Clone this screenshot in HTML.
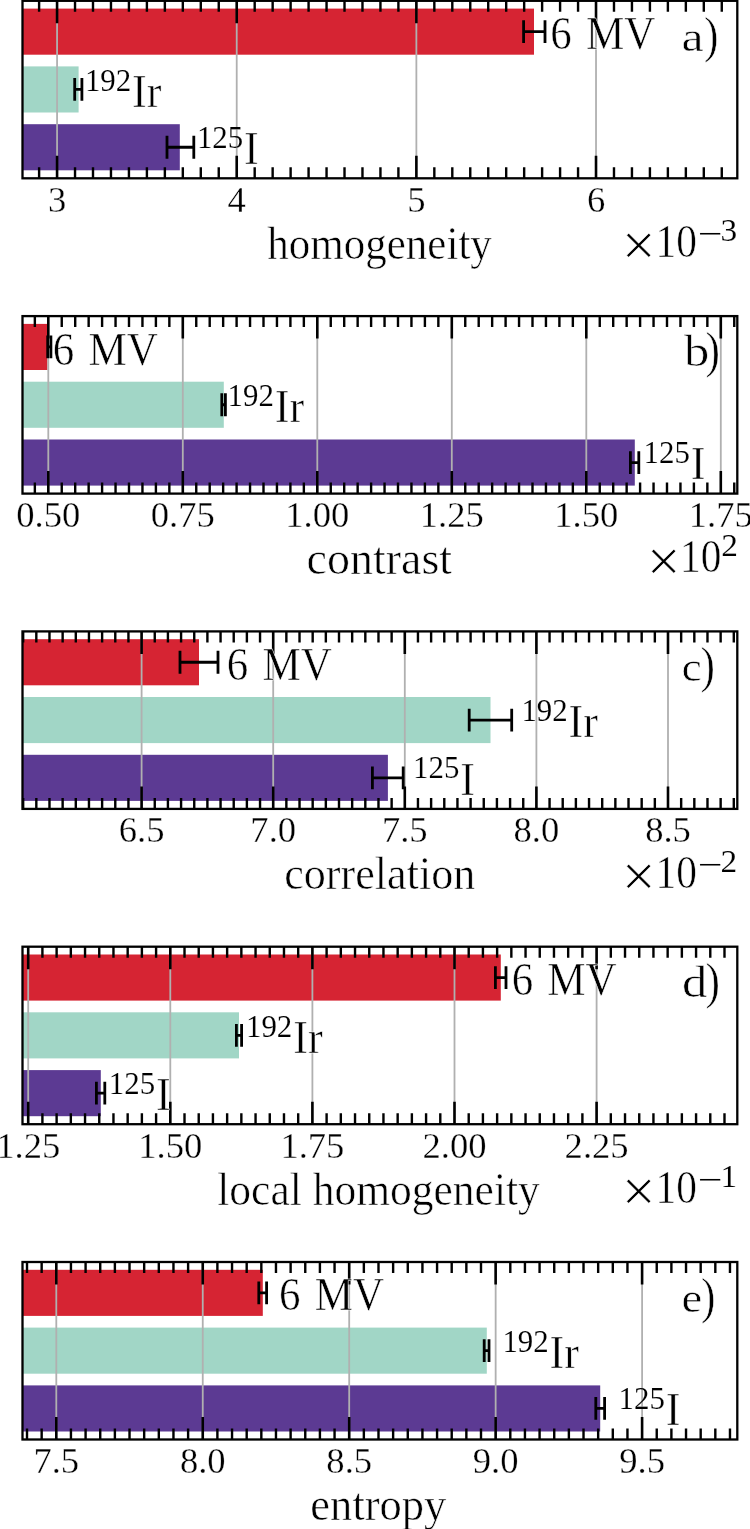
<!DOCTYPE html>
<html><head><meta charset="utf-8"><title>GLCM texture features</title>
<style>html,body{margin:0;padding:0;background:#fff}svg{display:block}text{font-family:"Liberation Serif", serif;fill:#000;stroke:#fff;stroke-width:0.55}text.s{stroke-width:0.12}text.t{stroke-width:0.3}</style></head><body>
<svg width="750" height="1529" viewBox="0 0 750 1529">
<rect width="750" height="1529" fill="#fff"/>
<g>
<rect x="22.5" y="8.6" width="511.5" height="46.1" fill="#d62433"/>
<rect x="22.5" y="66.4" width="56.1" height="46.1" fill="#a1d6c6"/>
<rect x="22.5" y="124.2" width="157.3" height="46.1" fill="#5c3a93"/>
<path d="M57.07 0.8V178.3M236.72 0.8V178.3M416.37 0.8V178.3M596.02 0.8V178.3" stroke="#b0b0b0" stroke-width="1.8" fill="none"/>
<path d="M39.11 0.8v11M39.11 178.3v-11M75.03 0.8v11M75.03 178.3v-11M93 0.8v11M93 178.3v-11M110.97 0.8v11M110.97 178.3v-11M128.93 0.8v11M128.93 178.3v-11M146.9 0.8v11M146.9 178.3v-11M164.86 0.8v11M164.86 178.3v-11M182.82 0.8v11M182.82 178.3v-11M200.79 0.8v11M200.79 178.3v-11M218.75 0.8v11M218.75 178.3v-11M254.69 0.8v11M254.69 178.3v-11M272.65 0.8v11M272.65 178.3v-11M290.62 0.8v11M290.62 178.3v-11M308.58 0.8v11M308.58 178.3v-11M326.55 0.8v11M326.55 178.3v-11M344.51 0.8v11M344.51 178.3v-11M362.47 0.8v11M362.47 178.3v-11M380.44 0.8v11M380.44 178.3v-11M398.4 0.8v11M398.4 178.3v-11M434.33 0.8v11M434.33 178.3v-11M452.3 0.8v11M452.3 178.3v-11M470.26 0.8v11M470.26 178.3v-11M488.23 0.8v11M488.23 178.3v-11M506.19 0.8v11M506.19 178.3v-11M524.16 0.8v11M524.16 178.3v-11M542.12 0.8v11M542.12 178.3v-11M560.09 0.8v11M560.09 178.3v-11M578.06 0.8v11M578.06 178.3v-11M613.99 0.8v11M613.99 178.3v-11M631.95 0.8v11M631.95 178.3v-11M649.92 0.8v11M649.92 178.3v-11M667.88 0.8v11M667.88 178.3v-11M685.85 0.8v11M685.85 178.3v-11M703.81 0.8v11M703.81 178.3v-11M721.78 0.8v11M721.78 178.3v-11" stroke="#000" stroke-width="2.4" fill="none"/>
<path d="M57.07 0.8v22.5M57.07 178.3v-22.5M236.72 0.8v22.5M236.72 178.3v-22.5M416.37 0.8v22.5M416.37 178.3v-22.5M596.02 0.8v22.5M596.02 178.3v-22.5" stroke="#000" stroke-width="2.6" fill="none"/>
<path d="M523.6 31.65H545M523.6 20.25V43.05M545 20.25V43.05M74.7 89.45H81.9M74.7 78.05V100.85M81.9 78.05V100.85M167 147.25H193.8M167 135.85V158.65M193.8 135.85V158.65" stroke="#000" stroke-width="2.8" fill="none"/>
<rect x="22.5" y="0.8" width="714.8" height="177.5" fill="none" stroke="#000" stroke-width="2.3"/>
<g transform="translate(550.3 49.2) scale(0.93 1)"><text font-size="46.3"><tspan word-spacing="3.6">6 MV</tspan></text></g>
<g transform="translate(84.9 90.6) scale(0.98 1)"><text font-size="31.5" class="s">192</text></g>
<g transform="translate(132.1 106.8) scale(0.953 1)"><text font-size="46.3">Ir</text></g>
<g transform="translate(196.9 147.8) scale(0.98 1)"><text font-size="31.5" class="s">125</text></g>
<g transform="translate(244.1 164) scale(0.953 1)"><text font-size="46.3">I</text></g>
<g transform="translate(681.5 50.8) scale(1.2 1)"><text font-size="41.5">a</text></g>
<g transform="translate(703.9 51.8) scale(0.85 1)"><text font-size="51">)</text></g>
<g transform="translate(57.07 211.6) scale(1.0 1)"><text font-size="36.6" text-anchor="middle" class="t">3</text></g>
<g transform="translate(236.72 211.6) scale(1.0 1)"><text font-size="36.6" text-anchor="middle" class="t">4</text></g>
<g transform="translate(416.37 211.6) scale(1.0 1)"><text font-size="36.6" text-anchor="middle" class="t">5</text></g>
<g transform="translate(596.02 211.6) scale(1.0 1)"><text font-size="36.6" text-anchor="middle" class="t">6</text></g>
<g transform="translate(379.5 258.6) scale(0.93 1)"><text font-size="46.3" text-anchor="middle">homogeneity</text></g>
<g transform="translate(621.8 265.4) scale(1.0 1)"><text font-size="60">×</text></g>
<g transform="translate(655.5 257.1) scale(0.893 1)"><text font-size="46.3">10</text></g>
<g transform="translate(697.9 244.1) scale(1.39 1)"><text font-size="31.5" class="s">−</text></g>
<g transform="translate(720.4 241.1) scale(1.06 1)"><text font-size="31.5" class="s">3</text></g>
</g>
<g>
<rect x="22.5" y="323.9" width="24.9" height="46.1" fill="#d62433"/>
<rect x="22.5" y="381.7" width="201.3" height="46.1" fill="#a1d6c6"/>
<rect x="22.5" y="439.5" width="612.3" height="46.1" fill="#5c3a93"/>
<path d="M48.3 316.1V493.6M182.8 316.1V493.6M317.3 316.1V493.6M451.8 316.1V493.6M586.3 316.1V493.6M720.8 316.1V493.6" stroke="#b0b0b0" stroke-width="1.8" fill="none"/>
<path d="M34.85 316.1v11M34.85 493.6v-11M61.75 316.1v11M61.75 493.6v-11M75.2 316.1v11M75.2 493.6v-11M88.65 316.1v11M88.65 493.6v-11M102.1 316.1v11M102.1 493.6v-11M115.55 316.1v11M115.55 493.6v-11M129 316.1v11M129 493.6v-11M142.45 316.1v11M142.45 493.6v-11M155.9 316.1v11M155.9 493.6v-11M169.35 316.1v11M169.35 493.6v-11M196.25 316.1v11M196.25 493.6v-11M209.7 316.1v11M209.7 493.6v-11M223.15 316.1v11M223.15 493.6v-11M236.6 316.1v11M236.6 493.6v-11M250.05 316.1v11M250.05 493.6v-11M263.5 316.1v11M263.5 493.6v-11M276.95 316.1v11M276.95 493.6v-11M290.4 316.1v11M290.4 493.6v-11M303.85 316.1v11M303.85 493.6v-11M330.75 316.1v11M330.75 493.6v-11M344.2 316.1v11M344.2 493.6v-11M357.65 316.1v11M357.65 493.6v-11M371.1 316.1v11M371.1 493.6v-11M384.55 316.1v11M384.55 493.6v-11M398 316.1v11M398 493.6v-11M411.45 316.1v11M411.45 493.6v-11M424.9 316.1v11M424.9 493.6v-11M438.35 316.1v11M438.35 493.6v-11M465.25 316.1v11M465.25 493.6v-11M478.7 316.1v11M478.7 493.6v-11M492.15 316.1v11M492.15 493.6v-11M505.6 316.1v11M505.6 493.6v-11M519.05 316.1v11M519.05 493.6v-11M532.5 316.1v11M532.5 493.6v-11M545.95 316.1v11M545.95 493.6v-11M559.4 316.1v11M559.4 493.6v-11M572.85 316.1v11M572.85 493.6v-11M599.75 316.1v11M599.75 493.6v-11M613.2 316.1v11M613.2 493.6v-11M626.65 316.1v11M626.65 493.6v-11M640.1 316.1v11M640.1 493.6v-11M653.55 316.1v11M653.55 493.6v-11M667 316.1v11M667 493.6v-11M680.45 316.1v11M680.45 493.6v-11M693.9 316.1v11M693.9 493.6v-11M707.35 316.1v11M707.35 493.6v-11M734.25 316.1v11M734.25 493.6v-11" stroke="#000" stroke-width="2.4" fill="none"/>
<path d="M48.3 316.1v22.5M48.3 493.6v-22.5M182.8 316.1v22.5M182.8 493.6v-22.5M317.3 316.1v22.5M317.3 493.6v-22.5M451.8 316.1v22.5M451.8 493.6v-22.5M586.3 316.1v22.5M586.3 493.6v-22.5M720.8 316.1v22.5M720.8 493.6v-22.5" stroke="#000" stroke-width="2.6" fill="none"/>
<path d="M47.7 346.95H50.9M47.7 335.55V358.35M50.9 335.55V358.35M221.8 404.75H225.4M221.8 393.35V416.15M225.4 393.35V416.15M630.4 462.55H638.8M630.4 451.15V473.95M638.8 451.15V473.95" stroke="#000" stroke-width="2.8" fill="none"/>
<rect x="22.5" y="316.1" width="714.8" height="177.5" fill="none" stroke="#000" stroke-width="2.3"/>
<g transform="translate(52.8 364.5) scale(0.93 1)"><text font-size="46.3"><tspan word-spacing="3.6">6 MV</tspan></text></g>
<g transform="translate(227.6 405.9) scale(0.98 1)"><text font-size="31.5" class="s">192</text></g>
<g transform="translate(274.8 422.1) scale(0.953 1)"><text font-size="46.3">Ir</text></g>
<g transform="translate(643.6 463.1) scale(0.98 1)"><text font-size="31.5" class="s">125</text></g>
<g transform="translate(690.8 479.3) scale(0.953 1)"><text font-size="46.3">I</text></g>
<g transform="translate(684 366.1) scale(1.168 1)"><text font-size="43.4">b</text></g>
<g transform="translate(705.4 367.1) scale(0.85 1)"><text font-size="51">)</text></g>
<g transform="translate(48.3 526.9) scale(1.0 1)"><text font-size="36.6" text-anchor="middle" class="t">0.50</text></g>
<g transform="translate(182.8 526.9) scale(1.0 1)"><text font-size="36.6" text-anchor="middle" class="t">0.75</text></g>
<g transform="translate(317.3 526.9) scale(1.0 1)"><text font-size="36.6" text-anchor="middle" class="t">1.00</text></g>
<g transform="translate(451.8 526.9) scale(1.0 1)"><text font-size="36.6" text-anchor="middle" class="t">1.25</text></g>
<g transform="translate(586.3 526.9) scale(1.0 1)"><text font-size="36.6" text-anchor="middle" class="t">1.50</text></g>
<g transform="translate(720.8 526.9) scale(1.0 1)"><text font-size="36.6" text-anchor="middle" class="t">1.75</text></g>
<g transform="translate(379.35 573.9) scale(0.993 1)"><text font-size="46.3" text-anchor="middle">contrast</text></g>
<g transform="translate(646.8 580.7) scale(1.0 1)"><text font-size="60">×</text></g>
<g transform="translate(680.1 572.4) scale(0.893 1)"><text font-size="46.3">10</text></g>
<g transform="translate(721.2 556.4) scale(1.06 1)"><text font-size="31.5" class="s">2</text></g>
</g>
<g>
<rect x="22.5" y="639.2" width="176.5" height="46.1" fill="#d62433"/>
<rect x="22.5" y="697" width="468" height="46.1" fill="#a1d6c6"/>
<rect x="22.5" y="754.8" width="365.4" height="46.1" fill="#5c3a93"/>
<path d="M141.6 631.4V808.9M273.2 631.4V808.9M404.8 631.4V808.9M536.4 631.4V808.9M668 631.4V808.9" stroke="#b0b0b0" stroke-width="1.8" fill="none"/>
<path d="M23.16 631.4v11M23.16 808.9v-11M36.32 631.4v11M36.32 808.9v-11M49.48 631.4v11M49.48 808.9v-11M62.64 631.4v11M62.64 808.9v-11M75.8 631.4v11M75.8 808.9v-11M88.96 631.4v11M88.96 808.9v-11M102.12 631.4v11M102.12 808.9v-11M115.28 631.4v11M115.28 808.9v-11M128.44 631.4v11M128.44 808.9v-11M154.76 631.4v11M154.76 808.9v-11M167.92 631.4v11M167.92 808.9v-11M181.08 631.4v11M181.08 808.9v-11M194.24 631.4v11M194.24 808.9v-11M207.4 631.4v11M207.4 808.9v-11M220.56 631.4v11M220.56 808.9v-11M233.72 631.4v11M233.72 808.9v-11M246.88 631.4v11M246.88 808.9v-11M260.04 631.4v11M260.04 808.9v-11M286.36 631.4v11M286.36 808.9v-11M299.52 631.4v11M299.52 808.9v-11M312.68 631.4v11M312.68 808.9v-11M325.84 631.4v11M325.84 808.9v-11M339 631.4v11M339 808.9v-11M352.16 631.4v11M352.16 808.9v-11M365.32 631.4v11M365.32 808.9v-11M378.48 631.4v11M378.48 808.9v-11M391.64 631.4v11M391.64 808.9v-11M417.96 631.4v11M417.96 808.9v-11M431.12 631.4v11M431.12 808.9v-11M444.28 631.4v11M444.28 808.9v-11M457.44 631.4v11M457.44 808.9v-11M470.6 631.4v11M470.6 808.9v-11M483.76 631.4v11M483.76 808.9v-11M496.92 631.4v11M496.92 808.9v-11M510.08 631.4v11M510.08 808.9v-11M523.24 631.4v11M523.24 808.9v-11M549.56 631.4v11M549.56 808.9v-11M562.72 631.4v11M562.72 808.9v-11M575.88 631.4v11M575.88 808.9v-11M589.04 631.4v11M589.04 808.9v-11M602.2 631.4v11M602.2 808.9v-11M615.36 631.4v11M615.36 808.9v-11M628.52 631.4v11M628.52 808.9v-11M641.68 631.4v11M641.68 808.9v-11M654.84 631.4v11M654.84 808.9v-11M681.16 631.4v11M681.16 808.9v-11M694.32 631.4v11M694.32 808.9v-11M707.48 631.4v11M707.48 808.9v-11M720.64 631.4v11M720.64 808.9v-11M733.8 631.4v11M733.8 808.9v-11" stroke="#000" stroke-width="2.4" fill="none"/>
<path d="M141.6 631.4v22.5M141.6 808.9v-22.5M273.2 631.4v22.5M273.2 808.9v-22.5M404.8 631.4v22.5M404.8 808.9v-22.5M536.4 631.4v22.5M536.4 808.9v-22.5M668 631.4v22.5M668 808.9v-22.5" stroke="#000" stroke-width="2.6" fill="none"/>
<path d="M180 662.25H218M180 650.85V673.65M218 650.85V673.65M469.2 720.05H511.7M469.2 708.65V731.45M511.7 708.65V731.45M372.4 777.85H403.2M372.4 766.45V789.25M403.2 766.45V789.25" stroke="#000" stroke-width="2.8" fill="none"/>
<rect x="22.5" y="631.4" width="714.8" height="177.5" fill="none" stroke="#000" stroke-width="2.3"/>
<g transform="translate(226.8 679.8) scale(0.93 1)"><text font-size="46.3"><tspan word-spacing="3.6">6 MV</tspan></text></g>
<g transform="translate(521.4 721.2) scale(0.98 1)"><text font-size="31.5" class="s">192</text></g>
<g transform="translate(568.6 737.4) scale(0.953 1)"><text font-size="46.3">Ir</text></g>
<g transform="translate(413.1 778.4) scale(0.98 1)"><text font-size="31.5" class="s">125</text></g>
<g transform="translate(460.3 794.6) scale(0.953 1)"><text font-size="46.3">I</text></g>
<g transform="translate(681.5 681.4) scale(1.1 1)"><text font-size="41.5">c</text></g>
<g transform="translate(700.4 682.4) scale(0.85 1)"><text font-size="51">)</text></g>
<g transform="translate(141.6 842.2) scale(1.0 1)"><text font-size="36.6" text-anchor="middle" class="t">6.5</text></g>
<g transform="translate(273.2 842.2) scale(1.0 1)"><text font-size="36.6" text-anchor="middle" class="t">7.0</text></g>
<g transform="translate(404.8 842.2) scale(1.0 1)"><text font-size="36.6" text-anchor="middle" class="t">7.5</text></g>
<g transform="translate(536.4 842.2) scale(1.0 1)"><text font-size="36.6" text-anchor="middle" class="t">8.0</text></g>
<g transform="translate(668 842.2) scale(1.0 1)"><text font-size="36.6" text-anchor="middle" class="t">8.5</text></g>
<g transform="translate(379.75 889.2) scale(0.953 1)"><text font-size="46.3" text-anchor="middle">correlation</text></g>
<g transform="translate(621.8 896) scale(1.0 1)"><text font-size="60">×</text></g>
<g transform="translate(655.5 887.7) scale(0.893 1)"><text font-size="46.3">10</text></g>
<g transform="translate(697.9 874.7) scale(1.39 1)"><text font-size="31.5" class="s">−</text></g>
<g transform="translate(720.4 871.7) scale(1.06 1)"><text font-size="31.5" class="s">2</text></g>
</g>
<g>
<rect x="22.5" y="954.5" width="478.3" height="46.1" fill="#d62433"/>
<rect x="22.5" y="1012.3" width="216.5" height="46.1" fill="#a1d6c6"/>
<rect x="22.5" y="1070.1" width="78.3" height="46.1" fill="#5c3a93"/>
<path d="M28.2 946.7V1124.2M170.3 946.7V1124.2M312.4 946.7V1124.2M454.5 946.7V1124.2M596.6 946.7V1124.2" stroke="#b0b0b0" stroke-width="1.8" fill="none"/>
<path d="M42.41 946.7v11M42.41 1124.2v-11M56.62 946.7v11M56.62 1124.2v-11M70.83 946.7v11M70.83 1124.2v-11M85.04 946.7v11M85.04 1124.2v-11M99.25 946.7v11M99.25 1124.2v-11M113.46 946.7v11M113.46 1124.2v-11M127.67 946.7v11M127.67 1124.2v-11M141.88 946.7v11M141.88 1124.2v-11M156.09 946.7v11M156.09 1124.2v-11M184.51 946.7v11M184.51 1124.2v-11M198.72 946.7v11M198.72 1124.2v-11M212.93 946.7v11M212.93 1124.2v-11M227.14 946.7v11M227.14 1124.2v-11M241.35 946.7v11M241.35 1124.2v-11M255.56 946.7v11M255.56 1124.2v-11M269.77 946.7v11M269.77 1124.2v-11M283.98 946.7v11M283.98 1124.2v-11M298.19 946.7v11M298.19 1124.2v-11M326.61 946.7v11M326.61 1124.2v-11M340.82 946.7v11M340.82 1124.2v-11M355.03 946.7v11M355.03 1124.2v-11M369.24 946.7v11M369.24 1124.2v-11M383.45 946.7v11M383.45 1124.2v-11M397.66 946.7v11M397.66 1124.2v-11M411.87 946.7v11M411.87 1124.2v-11M426.08 946.7v11M426.08 1124.2v-11M440.29 946.7v11M440.29 1124.2v-11M468.71 946.7v11M468.71 1124.2v-11M482.92 946.7v11M482.92 1124.2v-11M497.13 946.7v11M497.13 1124.2v-11M511.34 946.7v11M511.34 1124.2v-11M525.55 946.7v11M525.55 1124.2v-11M539.76 946.7v11M539.76 1124.2v-11M553.97 946.7v11M553.97 1124.2v-11M568.18 946.7v11M568.18 1124.2v-11M582.39 946.7v11M582.39 1124.2v-11M610.81 946.7v11M610.81 1124.2v-11M625.02 946.7v11M625.02 1124.2v-11M639.23 946.7v11M639.23 1124.2v-11M653.44 946.7v11M653.44 1124.2v-11M667.65 946.7v11M667.65 1124.2v-11M681.86 946.7v11M681.86 1124.2v-11M696.07 946.7v11M696.07 1124.2v-11M710.28 946.7v11M710.28 1124.2v-11M724.49 946.7v11M724.49 1124.2v-11" stroke="#000" stroke-width="2.4" fill="none"/>
<path d="M28.2 946.7v22.5M28.2 1124.2v-22.5M170.3 946.7v22.5M170.3 1124.2v-22.5M312.4 946.7v22.5M312.4 1124.2v-22.5M454.5 946.7v22.5M454.5 1124.2v-22.5M596.6 946.7v22.5M596.6 1124.2v-22.5" stroke="#000" stroke-width="2.6" fill="none"/>
<path d="M495.4 977.55H506M495.4 966.15V988.95M506 966.15V988.95M236.4 1035.35H241.6M236.4 1023.95V1046.75M241.6 1023.95V1046.75M96.4 1093.15H104.8M96.4 1081.75V1104.55M104.8 1081.75V1104.55" stroke="#000" stroke-width="2.8" fill="none"/>
<rect x="22.5" y="946.7" width="714.8" height="177.5" fill="none" stroke="#000" stroke-width="2.3"/>
<g transform="translate(511.7 995.1) scale(0.93 1)"><text font-size="46.3"><tspan word-spacing="3.6">6 MV</tspan></text></g>
<g transform="translate(246 1036.5) scale(0.98 1)"><text font-size="31.5" class="s">192</text></g>
<g transform="translate(293.2 1052.7) scale(0.953 1)"><text font-size="46.3">Ir</text></g>
<g transform="translate(108.8 1093.7) scale(0.98 1)"><text font-size="31.5" class="s">125</text></g>
<g transform="translate(156 1109.9) scale(0.953 1)"><text font-size="46.3">I</text></g>
<g transform="translate(682 996.7) scale(1.168 1)"><text font-size="43.4">d</text></g>
<g transform="translate(705.6 997.7) scale(0.85 1)"><text font-size="51">)</text></g>
<g transform="translate(28.2 1157.5) scale(1.0 1)"><text font-size="36.6" text-anchor="middle" class="t">1.25</text></g>
<g transform="translate(170.3 1157.5) scale(1.0 1)"><text font-size="36.6" text-anchor="middle" class="t">1.50</text></g>
<g transform="translate(312.4 1157.5) scale(1.0 1)"><text font-size="36.6" text-anchor="middle" class="t">1.75</text></g>
<g transform="translate(454.5 1157.5) scale(1.0 1)"><text font-size="36.6" text-anchor="middle" class="t">2.00</text></g>
<g transform="translate(596.6 1157.5) scale(1.0 1)"><text font-size="36.6" text-anchor="middle" class="t">2.25</text></g>
<g transform="translate(378.55 1204.5) scale(0.94 1)"><text font-size="46.3" text-anchor="middle">local homogeneity</text></g>
<g transform="translate(621.8 1211.3) scale(1.0 1)"><text font-size="60">×</text></g>
<g transform="translate(655.5 1203) scale(0.893 1)"><text font-size="46.3">10</text></g>
<g transform="translate(697.9 1190) scale(1.39 1)"><text font-size="31.5" class="s">−</text></g>
<g transform="translate(720.4 1187) scale(1.06 1)"><text font-size="31.5" class="s">1</text></g>
</g>
<g>
<rect x="22.5" y="1269.8" width="240.3" height="46.1" fill="#d62433"/>
<rect x="22.5" y="1327.6" width="464.3" height="46.1" fill="#a1d6c6"/>
<rect x="22.5" y="1385.4" width="577.7" height="46.1" fill="#5c3a93"/>
<path d="M56.3 1262V1439.5M202.75 1262V1439.5M349.2 1262V1439.5M495.65 1262V1439.5M642.1 1262V1439.5" stroke="#b0b0b0" stroke-width="1.8" fill="none"/>
<path d="M27.01 1262v11M27.01 1439.5v-11M41.66 1262v11M41.66 1439.5v-11M70.94 1262v11M70.94 1439.5v-11M85.59 1262v11M85.59 1439.5v-11M100.23 1262v11M100.23 1439.5v-11M114.88 1262v11M114.88 1439.5v-11M129.52 1262v11M129.52 1439.5v-11M144.17 1262v11M144.17 1439.5v-11M158.81 1262v11M158.81 1439.5v-11M173.46 1262v11M173.46 1439.5v-11M188.11 1262v11M188.11 1439.5v-11M217.39 1262v11M217.39 1439.5v-11M232.04 1262v11M232.04 1439.5v-11M246.69 1262v11M246.69 1439.5v-11M261.33 1262v11M261.33 1439.5v-11M275.97 1262v11M275.97 1439.5v-11M290.62 1262v11M290.62 1439.5v-11M305.26 1262v11M305.26 1439.5v-11M319.91 1262v11M319.91 1439.5v-11M334.56 1262v11M334.56 1439.5v-11M363.85 1262v11M363.85 1439.5v-11M378.49 1262v11M378.49 1439.5v-11M393.13 1262v11M393.13 1439.5v-11M407.78 1262v11M407.78 1439.5v-11M422.43 1262v11M422.43 1439.5v-11M437.07 1262v11M437.07 1439.5v-11M451.71 1262v11M451.71 1439.5v-11M466.36 1262v11M466.36 1439.5v-11M481 1262v11M481 1439.5v-11M510.3 1262v11M510.3 1439.5v-11M524.94 1262v11M524.94 1439.5v-11M539.58 1262v11M539.58 1439.5v-11M554.23 1262v11M554.23 1439.5v-11M568.87 1262v11M568.87 1439.5v-11M583.52 1262v11M583.52 1439.5v-11M598.16 1262v11M598.16 1439.5v-11M612.81 1262v11M612.81 1439.5v-11M627.45 1262v11M627.45 1439.5v-11M656.74 1262v11M656.74 1439.5v-11M671.39 1262v11M671.39 1439.5v-11M686.03 1262v11M686.03 1439.5v-11M700.68 1262v11M700.68 1439.5v-11M715.32 1262v11M715.32 1439.5v-11M729.97 1262v11M729.97 1439.5v-11" stroke="#000" stroke-width="2.4" fill="none"/>
<path d="M56.3 1262v22.5M56.3 1439.5v-22.5M202.75 1262v22.5M202.75 1439.5v-22.5M349.2 1262v22.5M349.2 1439.5v-22.5M495.65 1262v22.5M495.65 1439.5v-22.5M642.1 1262v22.5M642.1 1439.5v-22.5" stroke="#000" stroke-width="2.6" fill="none"/>
<path d="M258.8 1292.85H266.6M258.8 1281.45V1304.25M266.6 1281.45V1304.25M484.2 1350.65H489M484.2 1339.25V1362.05M489 1339.25V1362.05M595.8 1408.45H604.6M595.8 1397.05V1419.85M604.6 1397.05V1419.85" stroke="#000" stroke-width="2.8" fill="none"/>
<rect x="22.5" y="1262" width="714.8" height="177.5" fill="none" stroke="#000" stroke-width="2.3"/>
<g transform="translate(279.1 1310.4) scale(0.93 1)"><text font-size="46.3"><tspan word-spacing="3.6">6 MV</tspan></text></g>
<g transform="translate(502.4 1351.8) scale(0.98 1)"><text font-size="31.5" class="s">192</text></g>
<g transform="translate(549.6 1368) scale(0.953 1)"><text font-size="46.3">Ir</text></g>
<g transform="translate(618.6 1409) scale(0.98 1)"><text font-size="31.5" class="s">125</text></g>
<g transform="translate(665.8 1425.2) scale(0.953 1)"><text font-size="46.3">I</text></g>
<g transform="translate(681.5 1312) scale(1.13 1)"><text font-size="41.5">e</text></g>
<g transform="translate(701 1313) scale(0.85 1)"><text font-size="51">)</text></g>
<g transform="translate(56.3 1472.8) scale(1.0 1)"><text font-size="36.6" text-anchor="middle" class="t">7.5</text></g>
<g transform="translate(202.75 1472.8) scale(1.0 1)"><text font-size="36.6" text-anchor="middle" class="t">8.0</text></g>
<g transform="translate(349.2 1472.8) scale(1.0 1)"><text font-size="36.6" text-anchor="middle" class="t">8.5</text></g>
<g transform="translate(495.65 1472.8) scale(1.0 1)"><text font-size="36.6" text-anchor="middle" class="t">9.0</text></g>
<g transform="translate(642.1 1472.8) scale(1.0 1)"><text font-size="36.6" text-anchor="middle" class="t">9.5</text></g>
<g transform="translate(378.35 1519.8) scale(0.962 1)"><text font-size="46.3" text-anchor="middle">entropy</text></g>
</g>
</svg></body></html>
